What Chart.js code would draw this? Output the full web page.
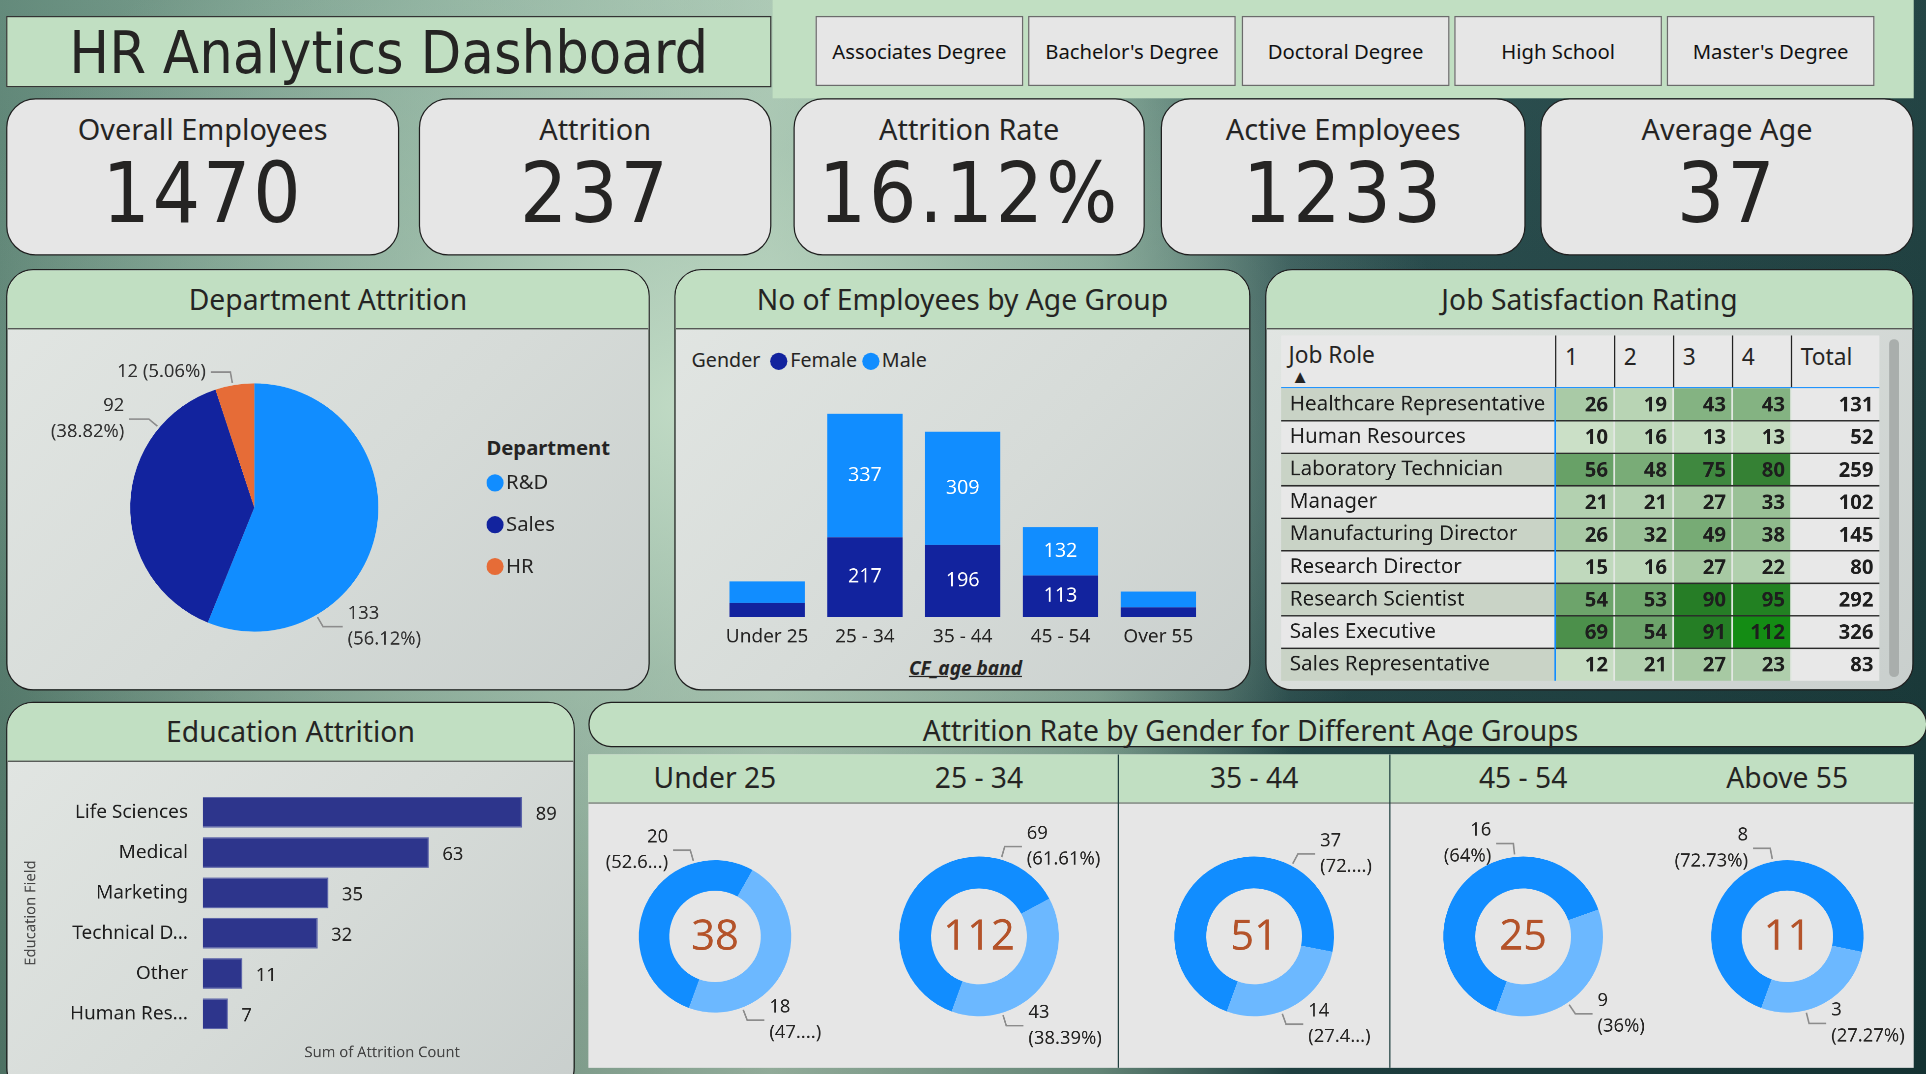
<!DOCTYPE html>
<html>
<head>
<meta charset="utf-8">
<title>HR Analytics Dashboard</title>
<script src="https://cdn.jsdelivr.net/npm/chart.js@4.4.0/dist/chart.umd.min.js"></script>
<style>
  html, body { margin: 0; padding: 0; width: 1926px; height: 1074px; overflow: hidden; background: #1b3f3f; }
  #root {
    position: absolute; left: 0; top: 0; width: 1568px; height: 874px; overflow: hidden;
    transform: scale(1.22832, 1.22883); transform-origin: 0 0;
    font-family: "Noto Sans", sans-serif; color: #252423;
    background:
      radial-gradient(ellipse 620px 480px at 560px 330px, rgba(196,222,200,0.9) 0%, rgba(170,200,180,0.55) 45%, rgba(120,160,140,0) 100%),
      linear-gradient(180deg, rgba(255,255,255,0.06) 0%, rgba(0,0,0,0.14) 100%),
      linear-gradient(90deg, #5a8373 0%, #84a996 22%, #a9c7b2 40%, #739a89 57%, #23494a 67%, #173a3a 100%);
  }
  .abs { position: absolute; box-sizing: border-box; }
  .din { font-family: "DejaVu Sans Condensed", "DejaVu Sans", sans-serif; font-stretch: condensed; }
  .title { left: 5px; top: 13px; width: 623px; height: 58px; background: #c1dfc2; border: 1px solid #333;
           text-align: center; font-size: 48px; line-height: 56px; color: #252423; }
  .slicer { left: 629px; top: 0; width: 929px; height: 80px; background: #c1dfc2; }
  .btn { top: 13px; width: 169px; height: 57px; background: #e6e6e6; border: 1px solid #6b6b6b;
         text-align: center; font-size: 16.5px; line-height: 55px; color: #111; }
  .kpi { top: 80px; height: 128px; background: #e6e6e6; border: 1px solid #1f1f1f; border-radius: 24px; text-align: center; }
  .kpi .t { font-size: 23.5px; line-height: 32px; margin-top: 8px; }
  .kpi .v { font-size: 68px; line-height: 74px; letter-spacing: 2px; color: #252423; }
  .panel { border: 1px solid #1f1f1f; border-radius: 22px; overflow: hidden;
           background: linear-gradient(135deg, #e2e6e3 0%, #d6dbd8 55%, #c9cfcd 100%); }
  .panel .hd { position: absolute; left: 0; right: 0; top: 0; height: 47px; background: #c1dfc2;
               border-bottom: 1px solid #4a4a4a; text-align: center; font-size: 23px; line-height: 47px; }
  .leg { font-size: 16px; white-space: nowrap; }
  .dot { display: inline-block; width: 14px; height: 14px; border-radius: 50%; vertical-align: -2px; margin-right: 2px; }
  .sub { font-size: 23px; text-align: center; width: 200px; line-height: 36px; }
  canvas { position: absolute; }
</style>
</head>
<body>
<div id="root">
  <div class="abs title din">HR Analytics Dashboard</div>
  <div class="abs slicer"></div>
  <div id="slicers"></div>
  <div id="kpis"></div>

  <!-- Department Attrition -->
  <div class="abs panel" style="left:5px;top:219px;width:524px;height:343px;"><div class="hd">Department Attrition</div></div>
  <div class="abs leg" style="left:396px;top:352px;font-weight:bold;font-size:16.5px;">Department</div>
  <canvas id="deptChart" width="522" height="294" style="left:6px;top:267px;"></canvas>

  <!-- Age group -->
  <div class="abs panel" style="left:549px;top:219px;width:469px;height:343px;"><div class="hd">No of Employees by Age Group</div></div>
  <div class="abs leg" style="left:563px;top:282px;">Gender&nbsp;&nbsp;<span class="dot" style="background:#12239e"></span>Female&nbsp;<span class="dot" style="background:#118dff"></span>Male</div>
  <canvas id="ageChart" width="448" height="232" style="left:560px;top:300px;"></canvas>
  <div class="abs" style="left:686px;top:532px;width:200px;text-align:center;font-size:15.5px;font-style:italic;font-weight:bold;text-decoration:underline;">CF_age band</div>

  <!-- Job satisfaction -->
  <div class="abs panel" style="left:1030px;top:219px;width:528px;height:343px;"><div class="hd">Job Satisfaction Rating</div></div>
  <div id="jobHeader" class="abs" style="left:1043px;top:273px;width:487px;height:43px;background:#e8e8e8;border-bottom:1.5px solid #118dff;"></div>
  <canvas id="jobChart" width="487" height="238" style="left:1043px;top:316px;"></canvas>
  <div class="abs" style="left:1538px;top:276px;width:8px;height:275px;background:#a9aeac;border-radius:4px;"></div>

  <!-- Education attrition -->
  <div class="abs panel" style="left:5px;top:571px;width:463px;height:320px;"><div class="hd">Education Attrition</div></div>
  <canvas id="eduChart" width="451" height="238" style="left:14px;top:630px;"></canvas>

  <!-- Attrition by gender and age -->
  <div class="abs" style="left:479px;top:571px;width:1090px;height:37px;background:#c1dfc2;border:1px solid #1f1f1f;border-radius:19px;text-align:center;font-size:23px;line-height:36px;padding-top:4px;padding-right:12px;">Attrition Rate by Gender for Different Age Groups</div>
  <div class="abs" style="left:479px;top:614px;width:1079px;height:255px;background:#e6e6e6;"></div>
  <div class="abs" style="left:479px;top:614px;width:1079px;height:40px;background:#c1dfc2;border-bottom:1px solid #777;"></div>
  <div class="abs" style="left:910px;top:614px;width:1px;height:255px;background:#1f3f3f;"></div>
  <div class="abs" style="left:1131px;top:614px;width:1px;height:255px;background:#1f3f3f;"></div>
  <div id="multiples"></div>
</div>

<script>
// ---- data ----
const educationLevels = ['Associates Degree', "Bachelor's Degree", 'Doctoral Degree', 'High School', "Master's Degree"];
const kpiLabels = ['Overall Employees', 'Attrition', 'Attrition Rate', 'Active Employees', 'Average Age'];
const kpiValues = ['1470', '237', '16.12%', '1233', '37'];

const departments = ['R&D', 'Sales', 'HR'];
const deptAttrition = [133, 92, 12];

const ageBands = ['Under 25', '25 - 34', '35 - 44', '45 - 54', 'Over 55'];
const femaleByAge = [38, 217, 196, 113, 26];
const maleByAge = [59, 337, 309, 132, 43];

const jobRoles = ['Healthcare Representative', 'Human Resources', 'Laboratory Technician', 'Manager',
  'Manufacturing Director', 'Research Director', 'Research Scientist', 'Sales Executive', 'Sales Representative'];
const satHeaders = ['1', '2', '3', '4'];
const sat1 = [26, 10, 56, 21, 26, 15, 54, 69, 12];
const sat2 = [19, 16, 48, 21, 32, 16, 53, 54, 21];
const sat3 = [43, 13, 75, 27, 49, 27, 90, 91, 27];
const sat4 = [43, 13, 80, 33, 38, 22, 95, 112, 23];

const eduFields = ['Life Sciences', 'Medical', 'Marketing', 'Technical Degree', 'Other', 'Human Resources'];
const eduTickLabels = ['Life Sciences', 'Medical', 'Marketing', 'Technical D...', 'Other', 'Human Res...'];
const eduAttrition = [89, 63, 35, 32, 11, 7];

const genderAgeGroups = ['Under 25', '25 - 34', '35 - 44', '45 - 54', 'Above 55'];
const attrMale = [20, 69, 37, 16, 8];
const attrFemale = [18, 43, 14, 9, 3];

// ---- layout helpers ----
const root = document.getElementById('root');
function addDiv(parent, cls, style, html) {
  const d = document.createElement('div');
  d.className = cls;
  d.setAttribute('style', style);
  d.innerHTML = html;
  parent.appendChild(d);
  return d;
}

const btnX = [664, 837, 1011, 1184, 1357];
educationLevels.forEach((e, i) => addDiv(root, 'abs btn', `left:${btnX[i]}px;`, e));

const kpiBox = [[5, 320], [341, 287], [646, 286], [945, 297], [1254, 304]];
kpiLabels.forEach((k, i) => addDiv(root, 'abs kpi', `left:${kpiBox[i][0]}px;width:${kpiBox[i][1]}px;`,
  `<div class="t">${k}</div><div class="v din">${kpiValues[i]}</div>`));

const deptColors = ['#118dff', '#12239e', '#e66c37'];
departments.forEach((d, i) => addDiv(root, 'abs leg', `left:396px;top:${380 + i * 34}px;font-size:16.5px;`,
  `<span class="dot" style="background:${deptColors[i]}"></span>${d.replace('&', '&amp;')}`));

// table header
const jobHeader = document.getElementById('jobHeader');
addDiv(jobHeader, 'abs', 'left:6px;top:2px;font-size:18.5px;', 'Job Role<div style="font-size:15px;line-height:12px;margin-left:2px;">&#9650;</div>');
const colW = 48;
[...satHeaders, 'Total'].forEach((h, k) => {
  addDiv(jobHeader, 'abs', `left:${223 + k * colW}px;top:0;height:42px;border-left:1.5px solid #222;padding-left:7px;font-size:18.5px;line-height:34px;`, h);
});

// small multiple headings
const smCenters = [582, 797, 1021, 1240, 1455];
genderAgeGroups.forEach((g, i) => addDiv(root, 'abs sub', `left:${smCenters[i] - 100}px;top:614px;`, g));

// ---- Chart.js ----
Chart.defaults.font.family = "'Noto Sans', sans-serif";
Chart.defaults.color = '#252423';
Chart.defaults.devicePixelRatio = 2.5;
Chart.defaults.animation = false;
Chart.defaults.responsive = false;
Chart.defaults.plugins.legend.display = false;
Chart.defaults.plugins.tooltip.enabled = false;

// vertical category axes: drop the half-label padding so the rows fill the canvas
function noEdgePadding(s) {
  s.paddingTop = 0;
  s.paddingBottom = 0;
}

function pctText(v, total) {
  return Number((v / total * 100).toFixed(2)) + '%';
}

// labels with leader lines for pie / donut slices
const sliceLabels = {
  id: 'sliceLabels',
  afterDatasetsDraw(chart, args, opts) {
    const ctx = chart.ctx;
    const data = chart.data.datasets[0].data;
    const total = data.reduce((a, b) => a + b, 0);
    const meta = chart.getDatasetMeta(0);
    const size = opts.size || 15;
    const lh = opts.lineHeight || 21;
    ctx.save();
    ctx.font = `${size}px 'Noto Sans', sans-serif`;
    meta.data.forEach((arc, i) => {
      const p = arc.getProps(['x', 'y', 'startAngle', 'endAngle', 'outerRadius'], true);
      const deg = opts.angles ? opts.angles[i] : ((p.startAngle + p.endAngle) / 2 + Math.PI / 2) * 180 / Math.PI;
      const a = deg * Math.PI / 180;
      const dx = Math.sin(a), dy = -Math.cos(a);
      const r = p.outerRadius;
      const x0 = p.x + dx * (r + 2), y0 = p.y + dy * (r + 2);
      const x1 = p.x + dx * (r + 11), y1 = p.y + dy * (r + 11);
      const side = dx >= 0 ? 1 : -1;
      const x2 = x1 + side * (opts.tail || 14);
      ctx.strokeStyle = '#8c8c8c';
      ctx.lineWidth = 1.3;
      ctx.beginPath();
      ctx.moveTo(x0, y0); ctx.lineTo(x1, y1); ctx.lineTo(x2, y1);
      ctx.stroke();
      const tx = x2 + side * 4;
      const avail = side > 0 ? chart.width - tx - 2 : tx - 2;
      let inner = pctText(data[i], total);
      const full = inner;
      while (ctx.measureText('(' + inner + (inner === full ? ')' : '...)')).width > avail && inner.length > 2) {
        inner = inner.slice(0, -1);
      }
      const pct = '(' + inner + (inner === full ? ')' : '...)');
      ctx.fillStyle = opts.color || '#252423';
      ctx.textAlign = side > 0 ? 'left' : 'right';
      ctx.textBaseline = 'middle';
      const single = opts.singleLine && opts.singleLine[i];
      if (single) {
        ctx.fillText(data[i] + ' ' + pct, tx, y1);
      } else {
        ctx.fillText(String(data[i]), tx, y1 - lh / 2);
        ctx.fillText(pct, tx, y1 + lh / 2);
      }
    });
    if (opts.centerText) {
      const p = meta.data[0].getProps(['x', 'y'], true);
      ctx.font = `34px 'Noto Sans', sans-serif`;
      ctx.fillStyle = '#b4532a';
      ctx.textAlign = 'center';
      ctx.textBaseline = 'middle';
      ctx.fillText(String(total), p.x, p.y + 1);
    }
    ctx.restore();
  }
};

// department pie
new Chart(document.getElementById('deptChart'), {
  type: 'pie',
  data: { labels: departments, datasets: [{ data: deptAttrition, backgroundColor: deptColors, borderWidth: 0 }] },
  options: {
    layout: { padding: { left: 100, right: 220, top: 45, bottom: 47 } },
    plugins: { sliceLabels: { angles: [150, 310, 350], singleLine: [false, false, true], size: 15, color: '#333', tail: 16 } }
  },
  plugins: [sliceLabels]
});

// age group stacked columns
const barValueLabels = {
  id: 'barValueLabels',
  afterDatasetsDraw(chart) {
    const ctx = chart.ctx;
    ctx.save();
    ctx.font = "16px 'Noto Sans', sans-serif";
    ctx.fillStyle = '#ffffff';
    ctx.textAlign = 'center';
    ctx.textBaseline = 'middle';
    chart.data.datasets.forEach((ds, di) => {
      chart.getDatasetMeta(di).data.forEach((bar, i) => {
        const p = bar.getProps(['x', 'y', 'base'], true);
        if (p.base - p.y > 24) ctx.fillText(String(ds.data[i]), p.x, (p.y + p.base) / 2);
      });
    });
    ctx.restore();
  }
};

new Chart(document.getElementById('ageChart'), {
  type: 'bar',
  data: {
    labels: ageBands,
    datasets: [
      { label: 'Female', data: femaleByAge, backgroundColor: '#12239e', barPercentage: 0.77, categoryPercentage: 1 },
      { label: 'Male', data: maleByAge, backgroundColor: '#118dff', barPercentage: 0.77, categoryPercentage: 1 }
    ]
  },
  options: {
    layout: { padding: { left: 24.7, right: 25.2, top: 23, bottom: 0 } },
    scales: {
      x: { stacked: true, grid: { display: false, drawTicks: false }, border: { display: false },
           ticks: { padding: 7, font: { size: 15.5 }, color: '#252423' },
           afterFit: s => { s.height = 30; } },
      y: { stacked: true, display: false, min: 0, max: 600 }
    }
  },
  plugins: [barValueLabels]
});

// job satisfaction matrix
const heatStops = [[10, [203, 224, 199]], [85, [42, 122, 42]], [112, [20, 140, 20]]];
function heatColor(v) {
  for (let i = 1; i < heatStops.length; i++) {
    const [v0, c0] = heatStops[i - 1];
    const [v1, c1] = heatStops[i];
    if (v <= v1 || i === heatStops.length - 1) {
      const t = Math.max(0, Math.min(1, (v - v0) / (v1 - v0)));
      return 'rgb(' + c0.map((c, j) => Math.round(c + (c1[j] - c) * t)).join(',') + ')';
    }
  }
}
const satCols = [sat1, sat2, sat3, sat4];
const roleTotals = jobRoles.map((_, i) => satCols.reduce((s, col) => s + col[i], 0));

const matrixDecor = {
  id: 'matrixDecor',
  beforeDraw(chart) {
    const { ctx, chartArea } = chart;
    const ys = chart.scales.y;
    const h = ys.getPixelForValue(1) - ys.getPixelForValue(0);
    ctx.save();
    jobRoles.forEach((r, i) => {
      const yc = ys.getPixelForValue(i);
      ctx.fillStyle = i % 2 === 0 ? '#c9d3c6' : '#e8e8e8';
      ctx.fillRect(0, yc - h / 2, chartArea.left, h);
    });
    ctx.restore();
  },
  afterDatasetsDraw(chart) {
    const { ctx, chartArea } = chart;
    const ys = chart.scales.y, xs = chart.scales.x;
    const h = ys.getPixelForValue(1) - ys.getPixelForValue(0);
    ctx.save();
    ctx.font = "bold 16.5px 'Noto Sans', sans-serif";
    ctx.fillStyle = '#1e1e1e';
    ctx.textAlign = 'right';
    ctx.textBaseline = 'middle';
    chart.data.datasets.forEach((ds, di) => {
      chart.getDatasetMeta(di).data.forEach((bar, i) => {
        const right = xs.getPixelForValue(ds.data[i][1]);
        ctx.fillText(String(ds.values[i]), right - 5, ys.getPixelForValue(i) + 1);
      });
    });
    ctx.strokeStyle = '#2a2a2a';
    ctx.lineWidth = 1.2;
    for (let i = 1; i < jobRoles.length; i++) {
      const y = ys.getPixelForValue(i) - h / 2;
      ctx.beginPath(); ctx.moveTo(0, y); ctx.lineTo(chartArea.right, y); ctx.stroke();
    }
    ctx.strokeStyle = '#118dff';
    ctx.beginPath(); ctx.moveTo(chartArea.left, 0); ctx.lineTo(chartArea.left, chart.height); ctx.stroke();
    ctx.restore();
  }
};

new Chart(document.getElementById('jobChart'), {
  type: 'bar',
  data: {
    labels: jobRoles,
    datasets: [
      ...satCols.map((col, k) => ({
        label: satHeaders[k], data: col.map(() => [k, k + 1]), values: col,
        backgroundColor: c => heatColor(col[c.dataIndex])
      })),
      { label: 'Total', data: roleTotals.map(() => [4, 5.5]), values: roleTotals, backgroundColor: '#e8e8e8' }
    ]
  },
  options: {
    indexAxis: 'y',
    datasets: { bar: { grouped: false, barPercentage: 1, categoryPercentage: 1, borderWidth: { left: 1, right: 1, top: 0, bottom: 0 },
                       borderColor: '#e4e8e4', borderSkipped: false } },
    layout: { padding: { left: 7, right: 0, top: 0, bottom: 0 } },
    scales: {
      x: { type: 'linear', min: 0, max: 5.5, display: false },
      y: { type: 'category', offset: true, grid: { display: false, drawTicks: false }, border: { display: false },
           ticks: { crossAlign: 'far', font: { size: 16.8 }, color: '#1e1e1e' },
           afterFit: s => { s.width = 216; noEdgePadding(s); } }
    }
  },
  plugins: [matrixDecor]
});

// education attrition horizontal bars
const endLabels = {
  id: 'endLabels',
  afterDatasetsDraw(chart) {
    const ctx = chart.ctx;
    ctx.save();
    ctx.font = "15px 'Noto Sans', sans-serif";
    ctx.fillStyle = '#252423';
    ctx.textAlign = 'left';
    ctx.textBaseline = 'middle';
    const ds = chart.data.datasets[0];
    chart.getDatasetMeta(0).data.forEach((bar, i) => {
      const p = bar.getProps(['x', 'y'], true);
      ctx.fillText(String(ds.data[i]), p.x + 11, p.y + 2);
    });
    ctx.restore();
  }
};

new Chart(document.getElementById('eduChart'), {
  type: 'bar',
  data: { labels: eduFields, datasets: [{ data: eduAttrition, backgroundColor: '#2d358c', borderColor: '#5a62a8', borderWidth: 1,
                                          barPercentage: 0.76, categoryPercentage: 1 }] },
  options: {
    indexAxis: 'y',
    layout: { padding: { left: 0, right: 8, top: 14.6, bottom: 0 } },
    scales: {
      x: { min: 0, max: 100, grid: { display: false, drawTicks: false }, border: { display: false },
           ticks: { display: false },
           title: { display: true, text: 'Sum of Attrition Count', font: { size: 12 }, color: '#444' },
           afterFit: s => { s.height = 26.6; } },
      y: { grid: { display: false, drawTicks: false }, border: { display: false },
           ticks: { padding: 12, font: { size: 15.5 }, color: '#1e1e1e', callback: (v, i) => eduTickLabels[i] },
           title: { display: true, text: 'Education Field', font: { size: 12 }, color: '#444' },
           afterFit: s => { s.width = 151; noEdgePadding(s); } }
    }
  },
  plugins: [endLabels]
});

// small multiple donuts
const smBounds = [[487, 674], [690, 908], [912, 1122], [1133, 1345], [1345, 1566]];
const smRadius = [62, 65, 65, 65, 62];
const smLabelAngles = [[344, 159], [16, 163], [28, 160], [354, 146], [349, 166]];
const smTop = 660, smHeight = 206, smCy = 102;
const multiples = document.getElementById('multiples');
genderAgeGroups.forEach((g, i) => {
  const [x0, x1] = smBounds[i];
  const w = x1 - x0;
  const cx = smCenters[i] - x0, r = smRadius[i];
  const cv = document.createElement('canvas');
  cv.width = w; cv.height = smHeight;
  cv.style.left = x0 + 'px'; cv.style.top = smTop + 'px';
  multiples.appendChild(cv);
  new Chart(cv, {
    type: 'doughnut',
    data: { labels: ['Male', 'Female'], datasets: [{ data: [attrMale[i], attrFemale[i]], backgroundColor: ['#118dff', '#6cb8ff'], borderWidth: 0 }] },
    options: {
      cutout: '60%',
      rotation: 200,
      layout: { padding: { left: cx - r, right: w - cx - r, top: smCy - r, bottom: smHeight - smCy - r } },
      plugins: { sliceLabels: { angles: smLabelAngles[i], size: 15, tail: 14, centerText: true } }
    },
    plugins: [sliceLabels]
  });
});
</script>
</body>
</html>
